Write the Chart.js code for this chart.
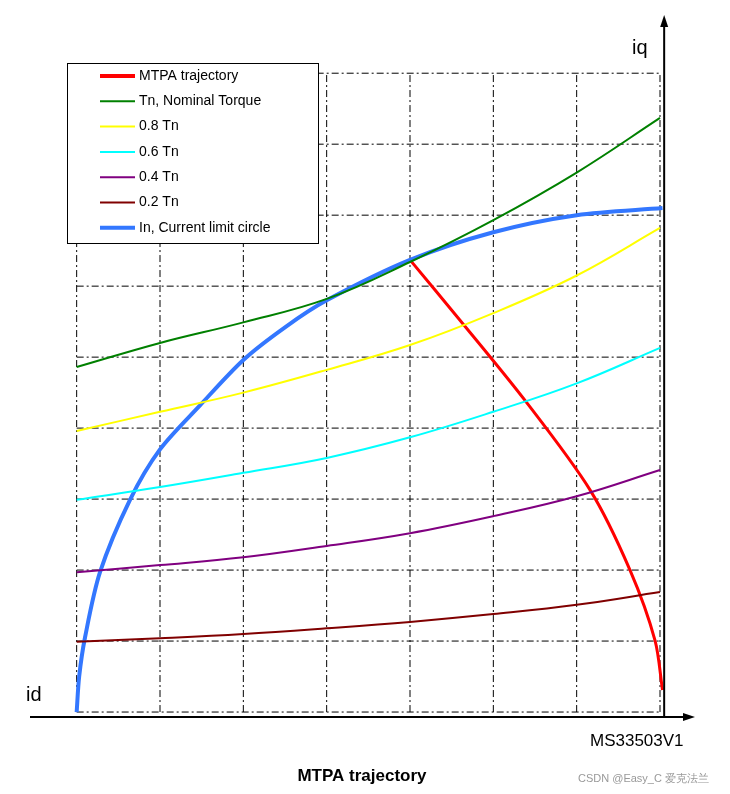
<!DOCTYPE html>
<html>
<head>
<meta charset="utf-8">
<script src="https://cdn.jsdelivr.net/npm/chart.js@4"></script>
<style>
  body { margin: 0; background: #fff; }
  #wrap { width: 730px; height: 794px; }
</style>
</head>
<body>
<div id="wrap"><canvas id="mtpa-chart"></canvas></div>
<script>
// id grid steps on the x axis, iq on the y axis
const idSteps = [0, 1, 2, 3, 4, 5, 6, 7];

// constant torque curves
const torqueNominal = [4.86, 5.2, 5.49, 5.82, 6.34, 6.93, 7.6, 8.37];
const torque08 = [3.96, 4.23, 4.5, 4.82, 5.17, 5.62, 6.15, 6.82];
const torque06 = [2.99, 3.17, 3.37, 3.58, 3.87, 4.23, 4.63, 5.13];
const torque04 = [1.97, 2.07, 2.18, 2.34, 2.52, 2.76, 3.04, 3.41];
const torque02 = [0.99, 1.04, 1.1, 1.18, 1.27, 1.38, 1.51, 1.69];

// current limit circle
const circleId = [0, 0.03, 0.1, 0.28, 0.64, 1.0, 1.48, 2, 2.5, 3, 4, 5, 6, 7.03];
const circleIq = [0, 0.5, 1.05, 1.97, 2.99, 3.7, 4.32, 4.96, 5.42, 5.8, 6.37, 6.76, 7.0, 7.1];

// MTPA trajectory
const mtpaId = [4, 4.6, 5.38, 6.16, 6.64, 6.94, 7.03];
const mtpaIq = [6.37, 5.52, 4.39, 3.13, 2.0, 1.01, 0.31];

const legendLabels = ['MTPA trajectory', 'Tn, Nominal Torque', '0.8 Tn', '0.6 Tn', '0.4 Tn', '0.2 Tn', 'In, Current limit circle'];

function pts(xs, ys) {
    return xs.map((x, i) => ({ x: x, y: ys[i] }));
}

function line(label, data, color, width, tension) {
    return { label: label, data: data, borderColor: color, borderWidth: width,
             pointRadius: 0, tension: tension, fill: false };
}

const datasets = [
    line(legendLabels[1], pts(idSteps, torqueNominal), '#008000', 2, 0.4),
    line(legendLabels[2], pts(idSteps, torque08), '#ffff00', 2, 0.4),
    line(legendLabels[3], pts(idSteps, torque06), '#00ffff', 2, 0.4),
    line(legendLabels[4], pts(idSteps, torque04), '#800080', 2, 0.4),
    line(legendLabels[5], pts(idSteps, torque02), '#800000', 2, 0.4),
    line(legendLabels[6], pts(circleId, circleIq), '#3377ff', 4, 0.3),
    line(legendLabels[0], pts(mtpaId, mtpaIq), '#ff0000', 3, 0.3)
];

const legendColors = ['#ff0000', '#008000', '#ffff00', '#00ffff', '#800080', '#800000', '#3377ff'];
const legendWidths = [4, 2, 2, 2, 2, 2, 4];

const decor = {
    id: 'decor',
    beforeDatasetsDraw(chart) {
        const ctx = chart.ctx;
        const xs = chart.scales.x, ys = chart.scales.y;
        ctx.save();
        ctx.strokeStyle = '#000';
        ctx.lineWidth = 1;
        ctx.setLineDash([7, 3, 2, 3]);
        for (let i = 0; i <= 7; i++) {
            const px = xs.getPixelForValue(i);
            ctx.beginPath();
            ctx.moveTo(px, ys.getPixelForValue(0));
            ctx.lineTo(px, ys.getPixelForValue(9));
            ctx.stroke();
        }
        for (let j = 0; j <= 9; j++) {
            const py = ys.getPixelForValue(j);
            ctx.beginPath();
            ctx.moveTo(xs.getPixelForValue(0), py);
            ctx.lineTo(xs.getPixelForValue(7), py);
            ctx.stroke();
        }
        ctx.restore();
    },
    afterDraw(chart) {
        const ctx = chart.ctx;
        const xs = chart.scales.x, ys = chart.scales.y;
        const axisY = ys.getPixelForValue(-0.07);
        const axisX = xs.getPixelForValue(7.05);
        ctx.save();
        ctx.strokeStyle = '#000';
        ctx.fillStyle = '#000';
        ctx.lineWidth = 2;
        // id axis
        ctx.beginPath();
        ctx.moveTo(xs.getPixelForValue(-0.56), axisY);
        ctx.lineTo(xs.getPixelForValue(7.37), axisY);
        ctx.stroke();
        ctx.beginPath();
        const ex = xs.getPixelForValue(7.42);
        ctx.moveTo(ex, axisY); ctx.lineTo(ex - 12, axisY - 4); ctx.lineTo(ex - 12, axisY + 4);
        ctx.fill();
        // iq axis
        ctx.beginPath();
        ctx.moveTo(axisX, axisY);
        ctx.lineTo(axisX, ys.getPixelForValue(9.75));
        ctx.stroke();
        ctx.beginPath();
        const ey = ys.getPixelForValue(9.82);
        ctx.moveTo(axisX, ey); ctx.lineTo(axisX - 4, ey + 12); ctx.lineTo(axisX + 4, ey + 12);
        ctx.fill();

        ctx.font = '20px Arial, "Liberation Sans", sans-serif';
        ctx.textBaseline = 'middle';
        ctx.textAlign = 'left';
        ctx.fillText('iq', 632, 48);
        ctx.fillText('id', 26, 695);
        ctx.font = '17px Arial, "Liberation Sans", sans-serif';
        ctx.fillText('MS33503V1', 590, 741);
        ctx.font = 'bold 17px Arial, "Liberation Sans", sans-serif';
        ctx.textAlign = 'center';
        ctx.fillText('MTPA trajectory', 362, 776);
        ctx.font = '11px Arial, "Liberation Sans", sans-serif';
        ctx.fillStyle = '#999';
        ctx.textAlign = 'left';
        ctx.fillText('CSDN @Easy_C 爱克法兰', 578, 779);

        // legend box
        ctx.fillStyle = '#fff';
        ctx.fillRect(67, 63, 251, 180);
        ctx.lineWidth = 1;
        ctx.strokeRect(67.5, 63.5, 251, 180);
        ctx.font = '14px Arial, "Liberation Sans", sans-serif';
        legendLabels.forEach((lab, i) => {
            const y = 76 + i * 25.3;
            ctx.strokeStyle = legendColors[i];
            ctx.lineWidth = legendWidths[i];
            ctx.beginPath();
            ctx.moveTo(100, y); ctx.lineTo(135, y);
            ctx.stroke();
            ctx.fillStyle = '#000';
            ctx.fillText(lab, 139, y);
        });
        ctx.restore();
    }
};

new Chart(document.getElementById('mtpa-chart').getContext('2d'), {
    type: 'line',
    data: { datasets: datasets },
    options: {
        responsive: true,
        maintainAspectRatio: false,
        animation: false,
        layout: { padding: { left: 30, right: 35, top: 15, bottom: 77 } },
        plugins: { legend: { display: false }, tooltip: { enabled: false } },
        scales: {
            x: { type: 'linear', min: -0.56, max: 7.42, display: false },
            y: { type: 'linear', min: -0.07, max: 9.82, display: false }
        }
    },
    plugins: [decor]
});
</script>
</body>
</html>
